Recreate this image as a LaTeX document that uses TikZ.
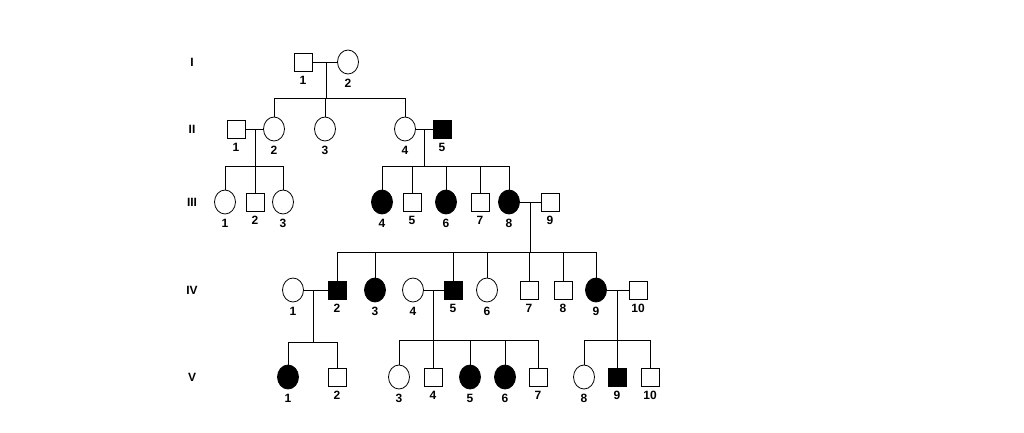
\documentclass[tikz,border=0pt]{standalone}
\usepackage{fontspec}
\setmainfont{Liberation Sans}
\usepackage{tikz}
\usetikzlibrary{positioning,shapes.geometric}

\begin{document}
\begin{tikzpicture}[x=1pt,y=-1pt,line width=0.8pt,
    male/.style={draw,rectangle,minimum size=18pt,inner sep=0pt},
    female/.style={draw,ellipse,minimum width=21pt,minimum height=24pt,inner sep=0pt},
    affm/.style={male,fill=black},
    afff/.style={female,fill=black},
    num/.style={font=\bfseries\fontsize{12}{14}\selectfont},
    gen/.style={font=\bfseries\fontsize{12}{14}\selectfont}]
    \useasboundingbox (0,0) rectangle (1024,432);

    % Generation labels
    \foreach \g/\y in {I/62,II/129,III/202,IV/290,V/377}
        \node[gen] (gen\g) at (192,\y) {\g};

    % Individuals
    \foreach \n/\x/\s in {1/303/male,2/348/female}
        \node[\s,label={[num,yshift=-1pt]below:\n}] (a\n) at (\x,62) {};
    \foreach \n/\x/\s in {1/236/male,2/274/female,3/325/female,4/405/female,5/442/affm}
        \node[\s,label={[num,yshift=-1pt]below:\n}] (b\n) at (\x,129) {};
    \foreach \n/\x/\s in {1/225/female,2/255/male,3/283/female,4/382/afff,5/412/male,
                          6/446/afff,7/480/male,8/509/afff,9/550/male}
        \node[\s,label={[num,yshift=-1pt]below:\n}] (c\n) at (\x,202) {};
    \foreach \n/\x/\s in {1/293/female,2/337/affm,3/375/afff,4/413/female,5/453/affm,
                          6/487/female,7/529/male,8/563/male,9/596/afff,10/638/male}
        \node[\s,label={[num,yshift=-1pt]below:\n}] (d\n) at (\x,290) {};
    \foreach \n/\x/\s in {1/288/afff,2/337/male,3/399/female,4/433/male,5/470/afff,
                          6/505/afff,7/538/male,8/584/female,9/617/affm,10/650/male}
        \node[\s,label={[num,yshift=-1pt]below:\n}] (e\n) at (\x,377) {};

    % Matings and sibships
    \coordinate (ma) at (326,62);  \coordinate (sa) at (326,98);
    \draw (a1) -- (a2);  \draw (ma) -- (sa);
    \draw (b2 |- sa) -- (b4 |- sa);
    \foreach \k in {2,3,4} \draw (b\k |- sa) -- (b\k);

    \coordinate (mb) at (255,129); \coordinate (sb) at (255,166);
    \draw (b1) -- (b2);  \draw (mb) -- (sb);
    \draw (c1 |- sb) -- (c3 |- sb);
    \foreach \k in {1,2,3} \draw (c\k |- sb) -- (c\k);

    \coordinate (mc) at (424,129); \coordinate (sc) at (424,166);
    \draw (b4) -- (b5);  \draw (mc) -- (sc);
    \draw (c4 |- sc) -- (c8 |- sc);
    \foreach \k in {4,...,8} \draw (c\k |- sc) -- (c\k);

    \coordinate (md) at (530,202); \coordinate (sd) at (530,252);
    \draw (c8) -- (c9);  \draw (md) -- (sd);
    \draw (d2 |- sd) -- (d9 |- sd);
    \foreach \k in {2,3,5,6,7,8,9} \draw (d\k |- sd) -- (d\k);

    \coordinate (me) at (313,290); \coordinate (se) at (313,342);
    \draw (d1) -- (d2);  \draw (me) -- (se);
    \draw (e1 |- se) -- (e2 |- se);
    \foreach \k in {1,2} \draw (e\k |- se) -- (e\k);

    \coordinate (mf) at (433,290); \coordinate (sf) at (433,340);
    \draw (d4) -- (d5);  \draw (mf) -- (sf);
    \draw (e3 |- sf) -- (e7 |- sf);
    \foreach \k in {3,...,7} \draw (e\k |- sf) -- (e\k);

    \coordinate (mg) at (617,290); \coordinate (sg) at (617,340);
    \draw (d9) -- (d10);  \draw (mg) -- (sg);
    \draw (e8 |- sg) -- (e10 |- sg);
    \foreach \k in {8,9,10} \draw (e\k |- sg) -- (e\k);
\end{tikzpicture}
\end{document}
